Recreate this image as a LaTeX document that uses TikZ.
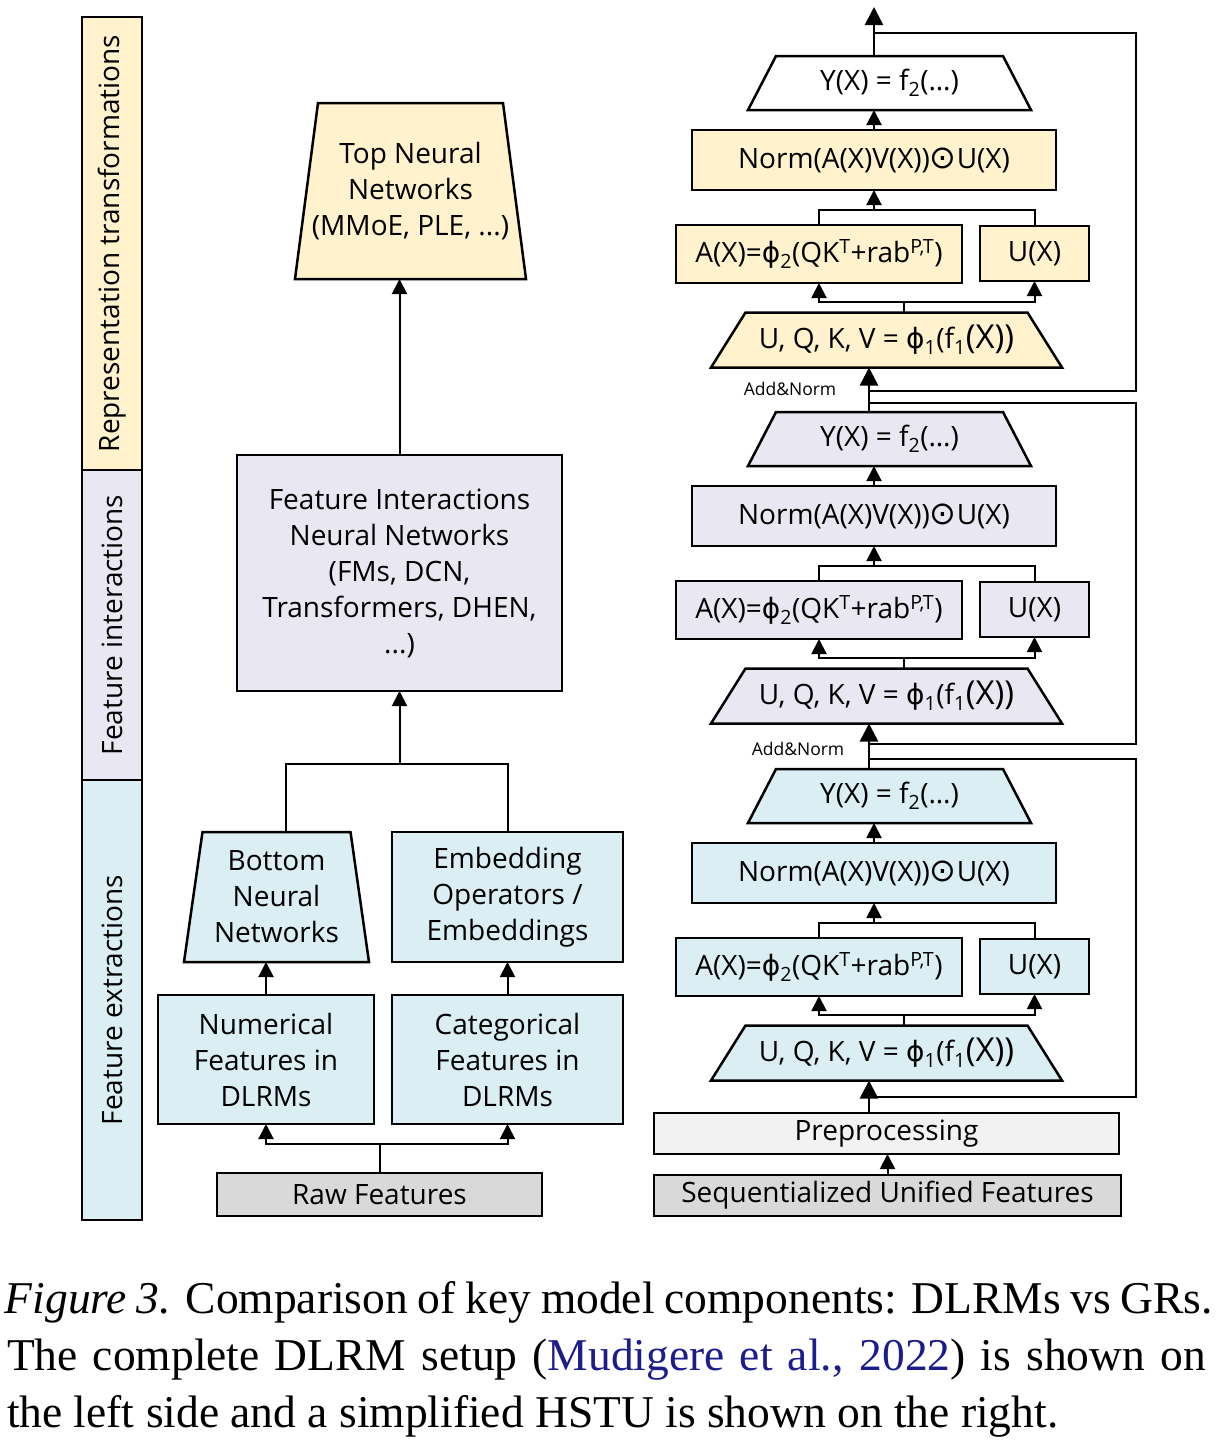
\documentclass[tikz,border=0pt]{standalone}
\usepackage{fontspec}
\setmainfont{Open Sans}
\newfontfamily\capfont{Liberation Serif}
\newfontfamily\symfont{DejaVu Sans}
\usetikzlibrary{arrows.meta,backgrounds}

\definecolor{repYellow}{HTML}{FFF2CC}
\definecolor{intLav}{HTML}{E9E7F1}
\definecolor{extBlue}{HTML}{DAEEF3}
\definecolor{rawGray}{HTML}{D9D9D9}
\definecolor{preGray}{HTML}{F2F2F2}
\definecolor{citeBlue}{HTML}{1C1C8C}

\newcommand{\boxfont}{\fontsize{28}{36}\selectfont}
\newcommand{\smallfont}{\fontsize{17.5}{20}\selectfont}
\newcommand{\capsize}{\capfont\fontsize{45.5}{57}\selectfont}
\newcommand{\odotsym}{{\symfont\fontsize{32}{36}\selectfont ⊙}}
\newcommand{\phisym}{{\symfont ϕ}}
\newcommand{\bigX}[1]{{\fontsize{33}{36}\selectfont #1}}
% trapezoid behind a named node: node, top inset, fill
\newcommand{\trapbg}[3]{%
  \begin{scope}[on background layer]
    \filldraw[fill=#3, line width=2.5pt] ([xshift=#2pt]#1.north west) -- ([xshift=-#2pt]#1.north east) -- (#1.south east) -- (#1.south west) -- cycle;
  \end{scope}}

\tikzset{every picture/.style={line width=2pt}}
\tikzset{
  txtblk/.style={rectangle, inner sep=0pt, outer sep=0pt, align=center, font=\boxfont},
  rectblk/.style={txtblk, draw, line width=2.5pt},
  arr/.style={-{Triangle[width=15pt,length=15pt]}},
  bigarr/.style={-{Triangle[width=18pt,length=18pt]}, line width=2.6pt},
  captxt/.style={anchor=base west, inner sep=0pt, font=\capsize},
}

\begin{document}
\begin{tikzpicture}[x=1pt,y=1pt,yscale=-1]
\useasboundingbox (0,0) rectangle (1228,1452);

% side bar
\node[rectblk, rotate=90, fill=repYellow, minimum width=453, minimum height=60] (sideRep) at (112,243.5) {Representation transformations};
\node[rectblk, rotate=90, fill=intLav, minimum width=310, minimum height=60] (sideInt) at (112,625) {Feature interactions};
\node[rectblk, rotate=90, fill=extBlue, minimum width=440, minimum height=60] (sideExt) at (112,1000) {Feature extractions};

% DLRM (left)
\node[txtblk, minimum width=231, minimum height=176] (topnn) at (410.5,191) {Top Neural\\Networks\\(MMoE, PLE, ...)};
\trapbg{topnn}{23}{repYellow}
\node[rectblk, fill=intLav, minimum width=325, minimum height=236] (fi) at (399.5,573) {Feature Interactions\\Neural Networks\\(FMs, DCN,\\Transformers, DHEN,\\...)};
\node[txtblk, minimum width=185, minimum height=130] (bnn) at (276.5,897) {Bottom\\Neural\\Networks};
\trapbg{bnn}{18.5}{extBlue}
\node[rectblk, fill=extBlue, minimum width=231, minimum height=130] (emb) at (507.5,897) {Embedding\\Operators /\\Embeddings};
\node[rectblk, fill=extBlue, minimum width=216, minimum height=129] (num) at (266,1059.5) {Numerical\\Features in\\DLRMs};
\node[rectblk, fill=extBlue, minimum width=231, minimum height=129] (cat) at (507.5,1059.5) {Categorical\\Features in\\DLRMs};
\node[rectblk, fill=rawGray, minimum width=325, minimum height=43] (raw) at (379.5,1194.5) {Raw Features};

\coordinate (rawJ) at (379.5,1144);
\draw (raw.north) -- (rawJ);
\draw[arr] (rawJ) -| (num.south);
\draw[arr] (rawJ) -| (cat.south);
\draw[arr] (num.north) -- (num.north |- bnn.south);
\draw[arr] (cat.north) -- (emb.south);
\coordinate (fiJ) at (399.5,764);
\coordinate (bnnJ) at (286,764);
\draw (bnnJ |- bnn.north) -- (bnnJ) -| (emb.north);
\draw[arr] (fiJ) -- (fi.south);
\draw[arr] (fi.north) -- (fi.north |- topnn.south);

% HSTU (right)
\node[rectblk, fill=rawGray, minimum width=467, minimum height=41] (seq) at (887.5,1195.5) {Sequentialized Unified Features};
\node[rectblk, fill=preGray, minimum width=465, minimum height=41] (pre) at (886.5,1133.5) {Preprocessing};
\draw[arr] (seq.north) -- (seq.north |- pre.south);

% block 1
\node[txtblk, minimum width=351, minimum height=55] (uqkv1) at (886.5,1053) {U, Q, K, V = \phisym\textsubscript{1}(f\textsubscript{1}\bigX{(X))}};
\trapbg{uqkv1}{34.5}{extBlue}
\node[rectblk, fill=extBlue, minimum width=286, minimum height=58] (a1) at (819,967) {A(X)=\phisym\textsubscript{2}(QK\textsuperscript{T}+rab\textsuperscript{P,T})};
\node[rectblk, fill=extBlue, minimum width=109, minimum height=55] (u1) at (1034.5,966.5) {U(X)};
\node[rectblk, fill=extBlue, minimum width=364, minimum height=60] (norm1) at (874,873) {Norm(A(X)V(X))\odotsym U(X)};
\node[txtblk, minimum width=283, minimum height=54] (y1) at (889.5,796) {Y(X) = f\textsubscript{2}(…)};
\trapbg{y1}{28}{extBlue}
\coordinate (sj1) at (904,1015);
\coordinate (nj1) at (874,923);
\draw (sj1 |- uqkv1.north) -- (sj1);
\draw[arr] (sj1) -| (a1.south);
\draw[arr] (sj1) -| (u1.south);
\draw (a1.north) |- (nj1) -| (u1.north);
\draw[arr] (nj1) -- (norm1.south);
\draw[arr] (norm1.north) -- (norm1.north |- y1.south);

% block 2
\node[txtblk, minimum width=351, minimum height=55] (uqkv2) at (886.5,696) {U, Q, K, V = \phisym\textsubscript{1}(f\textsubscript{1}\bigX{(X))}};
\trapbg{uqkv2}{34.5}{intLav}
\node[rectblk, fill=intLav, minimum width=286, minimum height=58] (a2) at (819,610) {A(X)=\phisym\textsubscript{2}(QK\textsuperscript{T}+rab\textsuperscript{P,T})};
\node[rectblk, fill=intLav, minimum width=109, minimum height=55] (u2) at (1034.5,609.5) {U(X)};
\node[rectblk, fill=intLav, minimum width=364, minimum height=60] (norm2) at (874,516) {Norm(A(X)V(X))\odotsym U(X)};
\node[txtblk, minimum width=283, minimum height=54] (y2) at (889.5,439) {Y(X) = f\textsubscript{2}(…)};
\trapbg{y2}{28}{intLav}
\coordinate (sj2) at (904,658);
\coordinate (nj2) at (874,566);
\draw (sj2 |- uqkv2.north) -- (sj2);
\draw[arr] (sj2) -| (a2.south);
\draw[arr] (sj2) -| (u2.south);
\draw (a2.north) |- (nj2) -| (u2.north);
\draw[arr] (nj2) -- (norm2.south);
\draw[arr] (norm2.north) -- (norm2.north |- y2.south);

% block 3
\node[txtblk, minimum width=351, minimum height=55] (uqkv3) at (886.5,340) {U, Q, K, V = \phisym\textsubscript{1}(f\textsubscript{1}\bigX{(X))}};
\trapbg{uqkv3}{34.5}{repYellow}
\node[rectblk, fill=repYellow, minimum width=286, minimum height=58] (a3) at (819,254) {A(X)=\phisym\textsubscript{2}(QK\textsuperscript{T}+rab\textsuperscript{P,T})};
\node[rectblk, fill=repYellow, minimum width=109, minimum height=55] (u3) at (1034.5,253.5) {U(X)};
\node[rectblk, fill=repYellow, minimum width=364, minimum height=60] (norm3) at (874,160) {Norm(A(X)V(X))\odotsym U(X)};
\node[txtblk, minimum width=283, minimum height=54] (y3) at (889.5,83) {Y(X) = f\textsubscript{2}(…)};
\trapbg{y3}{28}{white}
\coordinate (sj3) at (904,302);
\coordinate (nj3) at (874,210);
\draw (sj3 |- uqkv3.north) -- (sj3);
\draw[arr] (sj3) -| (a3.south);
\draw[arr] (sj3) -| (u3.south);
\draw (a3.north) |- (nj3) -| (u3.north);
\draw[arr] (nj3) -- (norm3.south);
\draw[arr] (norm3.north) -- (norm3.north |- y3.south);

% trunk and residual loops
\coordinate (trunk) at (869,0);
\coordinate (loop) at (1136,0);
\coordinate (in1) at (869,1097);
\coordinate (out1) at (869,759);
\coordinate (in2) at (869,744);
\coordinate (out2) at (869,403);
\coordinate (in3) at (869,391);
\coordinate (out3) at (874,33);
\coordinate (top) at (874,7);
\draw[bigarr] (trunk |- pre.north) -- (trunk |- uqkv1.south);
\draw[bigarr] (trunk |- y1.north) -- (trunk |- uqkv2.south);
\draw[bigarr] (trunk |- y2.north) -- (trunk |- uqkv3.south);
\draw[bigarr] (top |- y3.north) -- (top);
\draw (in1) -| (loop |- out1) -- (out1);
\draw (in2) -| (loop |- out2) -- (out2);
\draw (in3) -| (loop |- out3) -- (out3);
\node[inner sep=0pt, font=\smallfont] (an2) at (790,389) {Add\&Norm};
\node[inner sep=0pt, font=\smallfont] (an1) at (798,749) {Add\&Norm};

% caption
\node[captxt] (cap1) at (4,1313) {\makebox[1208pt][s]{{\itshape Figure 3.} Comparison of key model components: DLRMs vs GRs.}};
\node[captxt] (cap2) at (6,1370) {\makebox[1199pt][s]{The complete DLRM setup ({\color{citeBlue}Mudigere et al., 2022}) is shown on}};
\node[captxt] (cap3) at (6,1427) {the left side and a simplified HSTU is shown on the right.};

\end{tikzpicture}
\end{document}
